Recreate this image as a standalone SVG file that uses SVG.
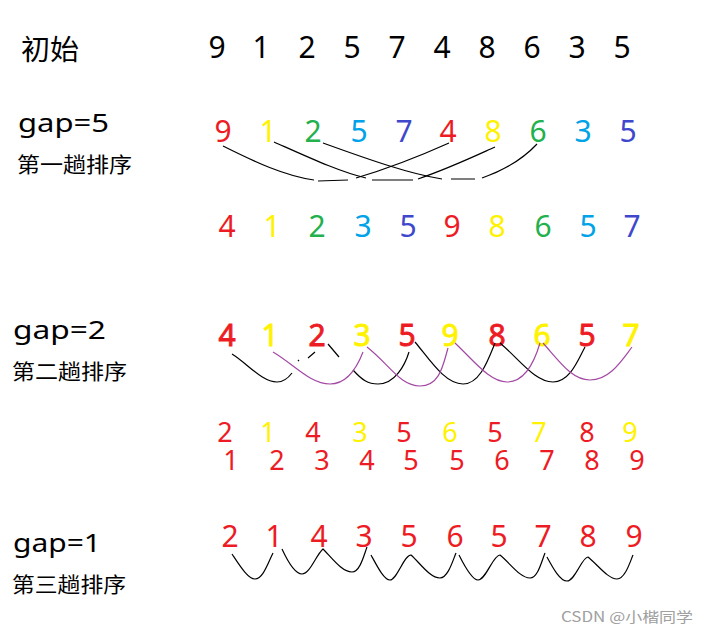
<svg xmlns="http://www.w3.org/2000/svg" width="709" height="637" viewBox="0 0 709 637">
<style>
.d{font-family:"Noto Sans","Open Sans","Liberation Sans",sans-serif;text-anchor:middle}
.r1{font-size:30px}
.r2{font-size:27px}
.lbl{font-family:"Noto Sans","Noto Sans CJK SC",sans-serif;font-size:25px;fill:#000}
.cn{font-family:"Noto Sans CJK SC","Noto Sans",sans-serif;fill:#000}
.k{fill:#000}.R{fill:#ed1c24}.Y{fill:#fff200}.G{fill:#22b14c}.B{fill:#00a2e8}.I{fill:#3f48cc}
.hv .R{stroke:#ed1c24;stroke-width:0.9}.hv .Y{stroke:#fff200;stroke-width:0.9}
.c{fill:none;stroke:#000;stroke-width:1.2}
.p{fill:none;stroke:#a349a4;stroke-width:1.2}
</style>
<rect width="709" height="637" fill="#fff"/>
<g id="labels">
<text class="cn" x="21" y="60" font-size="28" textLength="58" lengthAdjust="spacingAndGlyphs">初始</text>
<text class="lbl" x="18" y="132" textLength="91" lengthAdjust="spacingAndGlyphs">gap=5</text>
<text class="cn" x="17" y="172" font-size="21" textLength="115" lengthAdjust="spacingAndGlyphs">第一趟排序</text>
<text class="lbl" x="13" y="339" textLength="93" lengthAdjust="spacingAndGlyphs">gap=2</text>
<text class="cn" x="12" y="379" font-size="21" textLength="115" lengthAdjust="spacingAndGlyphs">第二趟排序</text>
<text class="lbl" x="13" y="552" textLength="88" lengthAdjust="spacingAndGlyphs">gap=1</text>
<text class="cn" x="12" y="592" font-size="21" textLength="114" lengthAdjust="spacingAndGlyphs">第三趟排序</text>
</g>
<g id="row-initial" class="d r1 k">
<text x="217" y="58">9</text><text x="261" y="58">1</text><text x="307" y="58">2</text><text x="352" y="58">5</text><text x="397" y="58">7</text><text x="442" y="58">4</text><text x="487" y="58">8</text><text x="532" y="58">6</text><text x="577" y="58">3</text><text x="622" y="58">5</text>
</g>
<g id="row-gap5" class="d r1">
<text class="R" x="223" y="142">9</text><text class="Y" x="268" y="142">1</text><text class="G" x="313" y="142">2</text><text class="B" x="359" y="142">5</text><text class="I" x="404" y="142">7</text><text class="R" x="448" y="142">4</text><text class="Y" x="493" y="142">8</text><text class="G" x="538" y="142">6</text><text class="B" x="583" y="142">3</text><text class="I" x="628" y="142">5</text>
</g>
<g id="row-after5" class="d r1">
<text class="R" x="227" y="237">4</text><text class="Y" x="272" y="237">1</text><text class="G" x="317" y="237">2</text><text class="B" x="363" y="237">3</text><text class="I" x="408" y="237">5</text><text class="R" x="452" y="237">9</text><text class="Y" x="497" y="237">8</text><text class="G" x="543" y="237">6</text><text class="B" x="588" y="237">5</text><text class="I" x="632" y="237">7</text>
</g>
<g id="row-gap2" class="d r1 hv">
<text class="R" x="227" y="346">4</text><text class="Y" x="270" y="346">1</text><text class="R" x="317" y="346">2</text><text class="Y" x="362" y="346">3</text><text class="R" x="407" y="346">5</text><text class="Y" x="450" y="346">9</text><text class="R" x="497" y="346">8</text><text class="Y" x="542" y="346">6</text><text class="R" x="587" y="346">5</text><text class="Y" x="631" y="346">7</text>
</g>
<g id="row-after2" class="d r2">
<text class="R" x="225" y="442">2</text><text class="Y" x="268" y="442">1</text><text class="R" x="313" y="442">4</text><text class="Y" x="360" y="442">3</text><text class="R" x="404" y="442">5</text><text class="Y" x="450" y="442">6</text><text class="R" x="495" y="442">5</text><text class="Y" x="539" y="442">7</text><text class="R" x="587" y="442">8</text><text class="Y" x="630" y="442">9</text>
</g>
<g id="row-sorted" class="d r2 R">
<text x="231" y="470">1</text><text x="277" y="470">2</text><text x="322" y="470">3</text><text x="367" y="470">4</text><text x="411" y="470">5</text><text x="457" y="470">5</text><text x="502" y="470">6</text><text x="547" y="470">7</text><text x="592" y="470">8</text><text x="637" y="470">9</text>
</g>
<g id="row-gap1" class="d r1 R">
<text x="230" y="547">2</text><text x="274" y="547">1</text><text x="319" y="547">4</text><text x="364" y="547">3</text><text x="409" y="547">5</text><text x="455" y="547">6</text><text x="499" y="547">5</text><text x="543" y="547">7</text><text x="588" y="547">8</text><text x="634" y="547">9</text>
</g>
<g id="connectors">
<path class="c" d="M223,146 C255,162 285,176 314,180 M318,181 L348,180 M356,178 C390,168 420,156 449,143"/>
<path class="c" d="M274,142 C310,158 340,172 366,178 M372,180 L413,180 M418,179 C450,168 475,156 495,147"/>
<path class="c" d="M323,143 C370,160 410,174 442,179 M451,179 L475,179 M482,178 C505,170 522,160 537,144"/>
<path class="c" d="M232,354 C248,364 262,382 277,382 C284,382 289,377 292,373 M298,361 L299,360 M308,358 L315,352"/>
<path class="c" d="M328,344 L339,357 M353,370 C362,380 368,384 378,384 C395,384 405,365 409,352"/>
<path class="c" d="M415,342 C430,360 445,384 463,384 C480,384 488,360 495,343"/>
<path class="c" d="M500,343 C520,360 535,382 553,382 C570,382 578,360 585,347"/>
<path class="p" d="M273,352 C295,365 310,384 330,384 C348,384 358,365 363,352"/>
<path class="p" d="M367,347 C390,365 400,386 420,386 C440,386 443,365 448,348"/>
<path class="p" d="M455,343 C475,362 490,382 507,382 C525,382 535,360 540,343"/>
<path class="p" d="M543,343 C560,362 572,380 590,380 C610,380 622,360 632,347"/>
<path class="c" d="M232,554 C240,566 248,579 255,579 C263,579 268,563 273,553"/>
<path class="c" d="M282,549 C288,562 295,574 302,574 C310,574 316,555 323,549 C332,558 342,572 352,572 C360,572 364,555 367,547"/>
<path class="c" d="M371,555 C377,566 384,580 390,580 C397,580 404,555 411,555 C420,563 430,578 440,578 C448,578 453,560 456,553"/>
<path class="c" d="M459,555 C465,567 472,580 478,580 C486,580 493,555 500,555 C510,563 520,578 530,578 C538,578 542,560 545,553"/>
<path class="c" d="M547,557 C553,568 560,581 567,581 C575,581 582,557 588,557 C598,565 608,579 617,579 C625,579 630,562 633,555"/>
</g>
<g id="watermark">
<text x="561" y="622" font-family="Noto Sans CJK SC, sans-serif" font-size="14" fill="#a0a0a0" textLength="132" lengthAdjust="spacingAndGlyphs">CSDN @小楷同学</text>
</g>
</svg>
